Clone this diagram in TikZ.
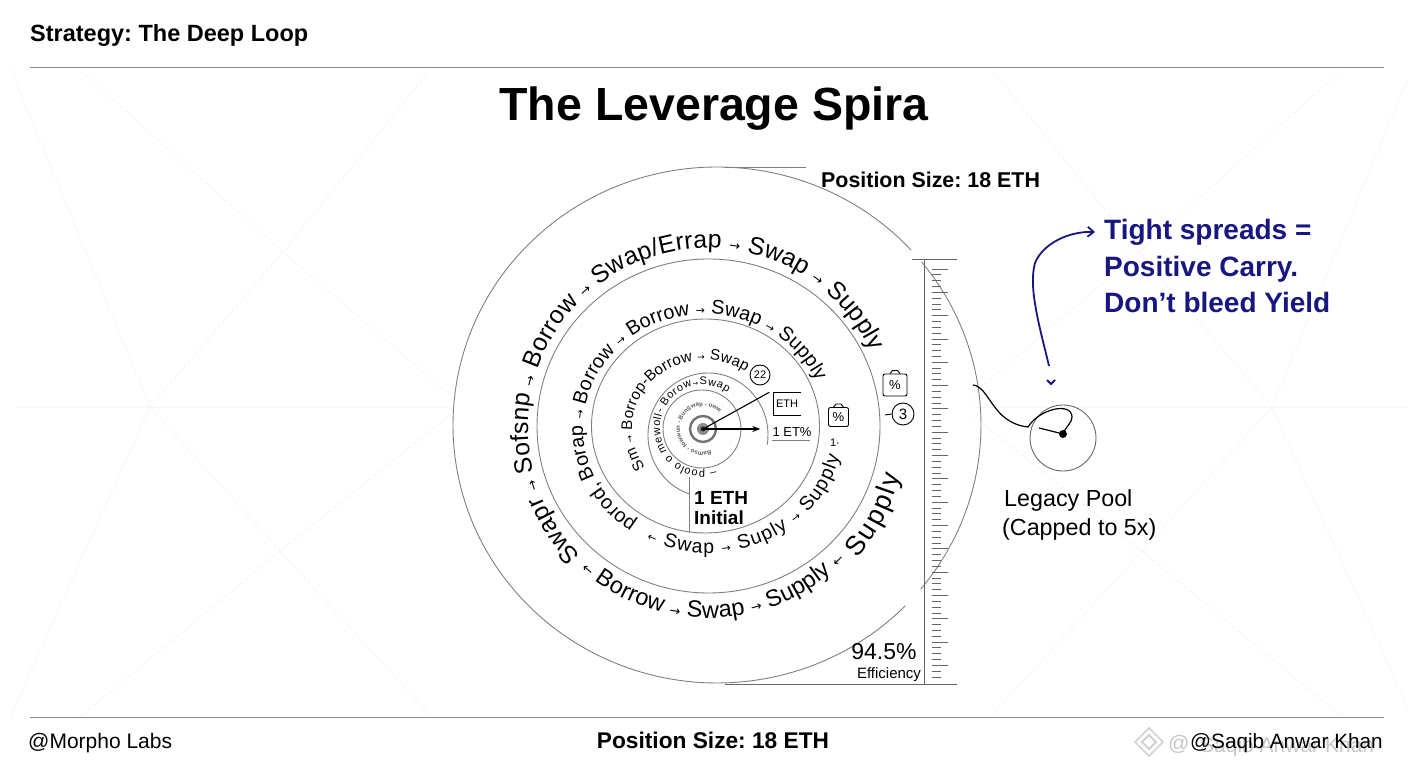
\documentclass[tikz,border=0pt]{standalone}
\usepackage{fontspec}
\usepackage{xcolor}
\setmainfont{Liberation Sans}
\newfontfamily\arrowfont{DejaVu Sans}
\usetikzlibrary{decorations.text, arrows.meta, calc}
\definecolor{spreadblue}{HTML}{17177F}
\definecolor{ruleline}{HTML}{8A8A8A}
\newcommand{\fsz}[1]{\fontsize{#1}{#1}\selectfont}
\newcommand{\arw}[1]{\arrowfont\fsz{#1}}
\tikzset{
        bg_line/.style={draw=black!3, line width=0.8pt},
        rule_line/.style={draw=ruleline, line width=0.9pt},
        ring_line/.style={draw=black!50, line width=0.9pt},
        ring_text/.style n args={2}{/utils/exec={\fsz{#1}}, decorate, decoration={text along path,
                      text align={fit to path}, text={#2}}},
        ruler_line/.style={draw=black!60, line width=1pt},
        tag_line/.style={draw=black, line width=0.9pt},
        pct_box/.style={tag_line, rounded corners=2pt, inner sep=0pt, font=\fsz{13}},
        plain_text/.style={anchor=base west, inner sep=0pt},
        blue_text/.style={plain_text, text=spreadblue, font=\bfseries\fsz{28}},
        pool_text/.style={plain_text, font=\fsz{23.3}},
        carry_line/.style={draw=spreadblue, line width=1.8pt}
    }
\begin{document}
\frenchspacing
\begin{tikzpicture}[x=1pt, y=1pt]
    \useasboundingbox (0,0) rectangle (1408,768);
    \fill[white] (0,0) rectangle (1408,768);
    % faint backdrop
    \foreach \mx/\sx in {0/1, 1422/-1} {
        \begin{scope}[xshift=\mx pt, xscale=\sx]
            \draw[bg_line] (15,361) -- (450,361);
            \draw[bg_line] (10,700) -- (150,361) -- (10,51);
            \draw[bg_line] (80,698) -- (283,516) -- (450,373);
            \draw[bg_line] (430,698) -- (283,516) -- (150,361) -- (280,217) -- (430,53);
            \draw[bg_line] (450,353) -- (280,217) -- (80,51);
        \end{scope}
    }
    % page frame
    \draw[rule_line] (30,701) -- (1384,701);
    \draw[rule_line] (30,51) -- (1384,51);
    \node[plain_text, font=\bfseries\fsz{23.5}] (page_head) at (30,726.4) {Strategy: The Deep Loop};
    \node[font=\bfseries\fsz{46.5}, inner sep=0pt] (page_title) at (714,659) {The Leverage Spira};
    \node[plain_text, font=\bfseries\fsz{21.4}] (size_top) at (821,580.4) {Position Size: 18 ETH};
    \node[plain_text, font=\fsz{21}] (foot_left) at (28,19.4) {@Morpho Labs};
    \node[font=\bfseries\fsz{22.7}, inner sep=0pt] (size_foot) at (713,28) {Position Size: 18 ETH};
    % watermark
    \draw[black!18, line width=2pt] (1149,33) -- ++(7,-7) -- ++(-7,-7) -- ++(-7,7) -- cycle;
    \draw[black!18, line width=1.5pt] (1149,40) -- (1163,26) -- (1149,12) -- (1135,26) -- cycle;
    \node[plain_text, text=black!22, font=\fsz{21}] (mark_at) at (1168,17.4) {@};
    \node[plain_text, text=black!22, font=\fsz{21}] (mark_name) at (1200,15.4) {Saqib Anwar Khan};
    \node[plain_text, font=\fsz{20.7}] (foot_right) at (1190,19.4) {@Saqib Anwar Khan};
    % spiral rings
    \draw[ring_line] ([shift={(42.7:264 and 258)}]717,343) arc[x radius=264, y radius=258, start angle=42.7, end angle=315.5];
    \draw[ring_line] ([shift={(39.2:264 and 258)}]717,343) arc[x radius=264, y radius=258, start angle=39.2, end angle=-39.5];
    \draw[ring_line] (708.5,342) ellipse[x radius=171.5, y radius=167];
    \draw[ring_line] (705.5,342) ellipse[x radius=114, y radius=107];
    \draw[ring_line] ([shift={(251.5:60 and 62)}]708,333) arc[x radius=60, y radius=62, start angle=251.5, end angle=-9];
    \draw[ring_line] (702,339) circle[radius=39];
    \draw[ring_line] (725,601) -- (806,601);
    \draw[ring_line] (689,291) -- (689,235);
    % spiral texts
    \path[ring_text={24.8}{Swapr |\arw{13}|→|| Sofsnp |\arw{13}|→|| Borrow |\arw{13}|→|| Swap/Errap |\arw{13}|→|| Swap |\arw{13}|→|| Supply}]
        ([shift={(225:180)}]708,340) arc[radius=180, start angle=225, end angle=25];
    \path[ring_text={23.5}{|\arw{13}|←|| Borrow |\arw{13}|→|| Swap |\arw{13}|→|| Supply |\arw{13}|←||}]
        ([shift={(228:190)}]708,340) arc[radius=190, start angle=228, end angle=316];
    \path[ring_text={27}{Supply}]
        ([shift={(319:198)}]708,340) arc[radius=198, start angle=319, end angle=346];
    \path[ring_text={19.8}{porod, Borap |\arw{11}|→|| Borrow |\arw{11}|→|| Borrow |\arw{11}|→|| Swap |\arw{11}|→|| Supply}]
        ([shift={(236:122 and 114)}]705,340) arc[x radius=122, y radius=114, start angle=236, end angle=24];
    \path[ring_text={19.5}{|\arw{11}|←|| Swap |\arw{11}|→|| Suply |\arw{11}|→|| Supply}]
        ([shift={(243:135 and 125)}]708,340) arc[x radius=135, y radius=125, start angle=243, end angle=347];
    \path[ring_text={15.2}{Sm |\arw{9}|→|| Borrop-Borrow |\arw{9}|→|| Swap}]
        ([shift={(215:73 and 68)}]705,340) arc[x radius=73, y radius=68, start angle=215, end angle=56];
    \path[ring_text={11}{– poolo o mewoll- Borow|\arw{7}|→||Swap}]
        ([shift={(287:43)}]703,340) arc[radius=43, start angle=287, end angle=55];
    \path[ring_text={6}{|\bfseries\color{black!65}|Bamso - fowwun - BunSwap - uww - Mwwe||}]
        ([shift={(290:23)}]703,339) arc[radius=23, start angle=290, end angle=50];
    % hub of the spiral
    \draw[black!55, line width=2.4pt] (703,339) circle[radius=13];
    \fill[black!45] (703,339) circle[radius=6];
    \node[circle, fill=black!85, inner sep=0pt, minimum size=5pt] (hub) at (703,339) {};
    % tags near the hub
    \node[inner sep=0pt, minimum width=27pt, minimum height=23pt, font=\fsz{11}] (eth_box) at (787,364) {ETH};
    \draw[tag_line] (eth_box.north east) -- (eth_box.north west) -- (eth_box.south west) -- (eth_box.south east);
    \node[inner sep=0pt, font=\fsz{13}] (eth_pct) at (792,336) {1 ET\%};
    \draw[ring_line] (772,328) -- (810,328);
    \draw[line width=1.1pt] (hub.center) -- ([xshift=-4pt]eth_box.north west);
    \draw[-{Stealth[length=8pt, width=6pt]}, line width=1.1pt] (hub.center) -- ([xshift=-12pt]hub.center -| eth_pct.west);
    \node[circle, tag_line, inner sep=0pt, minimum size=20pt, font=\fsz{11}] (num_two) at (760,393) {22};
    \node[circle, tag_line, inner sep=0pt, minimum size=22pt, font=\fsz{15}] (num_three) at (903,354) {3};
    \coordinate (three_tail) at (885,353);
    \draw[tag_line] (three_tail) -- (num_three.west);
    \node[inner sep=0pt, font=\fsz{11}] (one_mark) at (835,325) {1·};
    \node[pct_box, draw, minimum width=24pt, minimum height=22pt] (pct_a) at (895,383) {\%};
    \draw[tag_line] ([xshift=-5pt]pct_a.north) -- ++(2.5,3) -- ++(5,0) -- ++(2.5,-3);
    \node[pct_box, draw, minimum width=20pt, minimum height=19pt] (pct_b) at (838.5,351) {\%};
    \draw[tag_line] ([xshift=-5pt]pct_b.north) -- ++(2.5,3) -- ++(5,0) -- ++(2.5,-3);
    \node[plain_text, font=\bfseries\fsz{19}] (start_a) at (694,263.4) {1 ETH};
    \node[plain_text, font=\bfseries\fsz{19}] (start_b) at (694,243.4) {Initial};
    % ruler
    \draw[ruler_line] (924,508) -- (924,83);
    \draw[ruler_line] (912,508) -- (957,508);
    \draw[ruler_line] (725,83) -- (957,83);
    \foreach \i in {0,...,70} {
        \pgfmathsetmacro\tickend{mod(\i,4)==0 ? 948 : 941}
        \draw[ruler_line, line width=0.9pt] (932,{499-5.83*\i}) -- (\tickend,{499-5.83*\i});
    }
    \node[inner sep=0pt, font=\fsz{23}] (eff_num) at (884,116) {94.5\%};
    \node[inner sep=0pt, font=\fsz{15}] (eff_label) at (889,93) {Efficiency};
    % legacy pool
    \node[circle, draw=black!60, line width=0.9pt, minimum size=66pt, inner sep=0pt] (pool) at (1063,330) {};
    \node[circle, fill=black, inner sep=0pt, minimum size=8pt] (pool_dot) at (1063,334) {};
    \coordinate (pool_tail) at (973,383);
    \coordinate (pool_stub) at (1039,340);
    \draw[line width=1.2pt] (pool_tail) .. controls (990,381) and (992,345) .. (1028,341)
        .. controls (1040,360) and (1072,366) .. (1072,351) .. controls (1072,345) and (1066,342) .. (pool_dot.center);
    \draw[line width=1.2pt] (pool_stub) -- (pool_dot.center);
    \node[pool_text] (pool_name) at (1004,261.4) {Legacy Pool};
    \node[pool_text] (pool_cap) at (1002,232.4) {(Capped to 5x)};
    % spreads note
    \node[blue_text] (note_a) at (1104,528.4) {Tight spreads =};
    \node[blue_text] (note_b) at (1104,491.4) {Positive Carry.};
    \node[blue_text] (note_c) at (1104,455.4) {Don’t bleed Yield};
    \coordinate (note_tail) at (1049,402);
    \draw[carry_line, shorten >=9pt, -{Straight Barb[length=6pt, width=10pt]}] (note_tail) .. controls (1040,440) and (1028,480) .. (1035,505)
        .. controls (1043,525) and (1070,537) .. (note_a.west);
    \coordinate (chev_mid) at (1051,384);
    \draw[carry_line] ([xshift=-4pt, yshift=4pt]chev_mid) -- (chev_mid) -- ([xshift=4pt, yshift=4pt]chev_mid);
\end{tikzpicture}
\end{document}
